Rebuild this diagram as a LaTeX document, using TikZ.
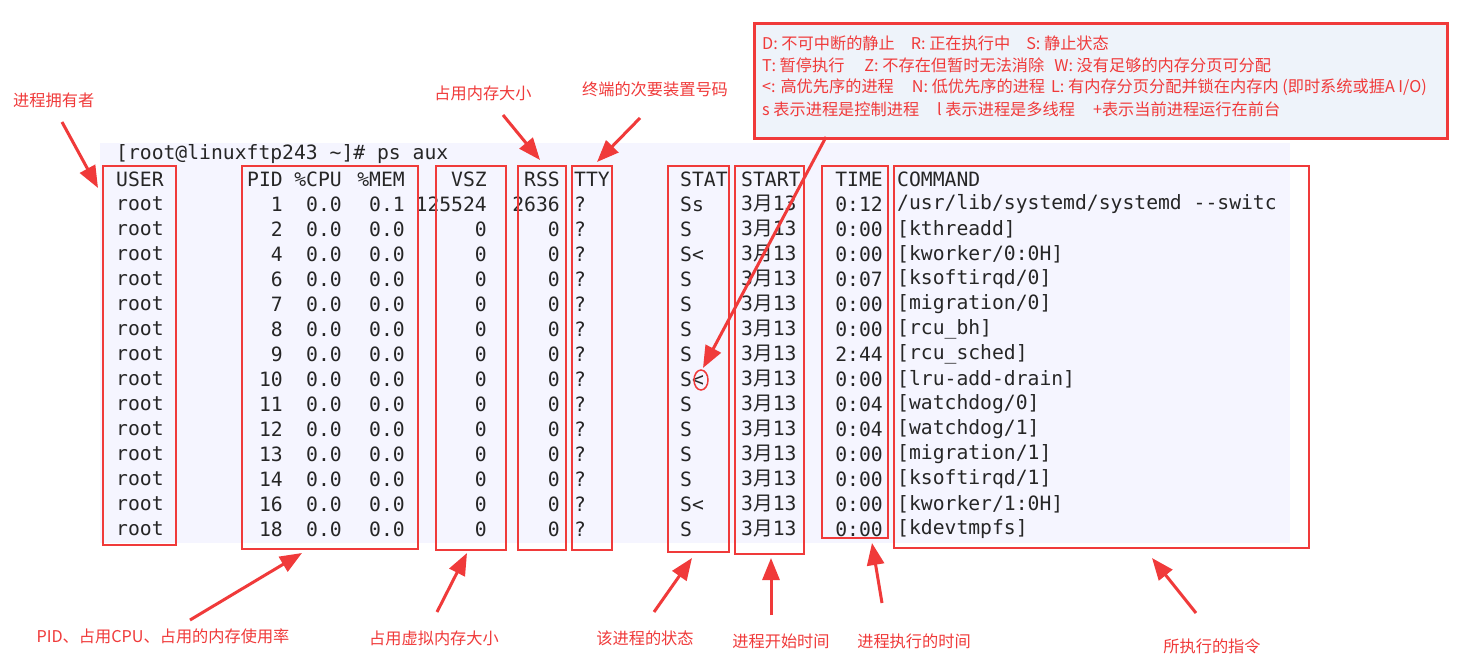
\documentclass[tikz,border=0pt]{standalone}
\usepackage{fontspec}
\setmainfont{Noto Sans CJK SC}
\newfontfamily\cjk{Noto Sans CJK SC}
\newfontfamily\mono{DejaVu Sans Mono}
\usetikzlibrary{arrows.meta}
\definecolor{rd}{HTML}{F03A3A}
\definecolor{bx}{HTML}{EEF3FA}
\tikzset{
  col/.style={draw=rd,line width=2.6pt},
  tt/.style={inner sep=0pt,font=\mono\fontsize{19.7}{20}\selectfont,text=black!85},
  lab/.style={inner sep=0pt,text=rd,font=\cjk\fontsize{16.2}{17}\selectfont},
  arr/.style={draw=rd,line width=3pt,-{Triangle[length=22pt,width=17pt]}},
}
\begin{document}
\begin{tikzpicture}[x=1pt,y=-1pt]
\useasboundingbox (0,0) rectangle (1462,663);
\fill[white] (0,0) rectangle (1462,663);
\fill[white!96!blue] (100,143) rectangle (1290,543);
% header
\node[tt,anchor=west] (prompt) at (116,154) {[root@linuxftp243 \textasciitilde]\# ps aux};
\node[tt,anchor=west] (hU) at (116,179) {USER};
\node[tt,anchor=east] (hP) at (283,179) {PID};
\node[tt,anchor=east] (hC) at (342,179) {\%CPU};
\node[tt,anchor=east] (hM) at (405,179) {\%MEM};
\node[tt,anchor=east] (hV) at (487,179) {VSZ};
\node[tt,anchor=east] (hR) at (560,179) {RSS};
\node[tt,anchor=west] (hT) at (574,179) {TTY};
\node[tt,anchor=west] (hS) at (680,179) {STAT};
\node[tt,anchor=west] (hSt) at (741,179) {START};
\node[tt,anchor=east] (hTi) at (883,179) {TIME};
\node[tt,anchor=west] (hCo) at (897,179) {COMMAND};
\foreach \i/\p/\m/\v/\r/\s/\t/\c in {
 1/1/0.1/125524/2636/Ss/0:12/{/usr/lib/systemd/systemd --switc},
 2/2/0.0/0/0/S/0:00/{[kthreadd]},
 3/4/0.0/0/0/S<{}/0:00/{[kworker/0:0H]},
 4/6/0.0/0/0/S/0:07/{[ksoftirqd/0]},
 5/7/0.0/0/0/S/0:00/{[migration/0]},
 6/8/0.0/0/0/S/0:00/{[rcu\_bh]},
 7/9/0.0/0/0/S/2:44/{[rcu\_sched]},
 8/10/0.0/0/0/S<{}/0:00/{[lru-add-drain]},
 9/11/0.0/0/0/S/0:04/{[watchdog/0]},
 10/12/0.0/0/0/S/0:04/{[watchdog/1]},
 11/13/0.0/0/0/S/0:00/{[migration/1]},
 12/14/0.0/0/0/S/0:00/{[ksoftirqd/1]},
 13/16/0.0/0/0/S<{}/0:00/{[kworker/1:0H]},
 14/18/0.0/0/0/S/0:00/{[kdevtmpfs]}}{
 \pgfmathsetmacro\yy{179+25*\i}
 \node[tt,anchor=west] (u\i) at (116,\yy) {root};
 \node[tt,anchor=east] (p\i) at (283,\yy) {\p};
 \node[tt,anchor=east] (c\i) at (342,\yy) {0.0};
 \node[tt,anchor=east] (m\i) at (405,\yy) {\m};
 \node[tt,anchor=east] (v\i) at (487,\yy) {\v};
 \node[tt,anchor=east] (r\i) at (560,\yy) {\r};
 \node[tt,anchor=west] (y\i) at (574,\yy) {?};
 \node[tt,anchor=west] (s\i) at (680,\yy) {\s};
 \node[tt,anchor=west] (d\i) at (741,\yy) {3{\cjk 月}13};
 \node[tt,anchor=east] (t\i) at (883,\yy) {\t};
 \node[tt,anchor=west] (k\i) at (897,\yy) {\c};
}
% column boxes
\draw[col] (103,166) rectangle (176,545);
\draw[col] (242,166) rectangle (418,549);
\draw[col] (436,166) rectangle (506,550);
\draw[col] (518,166) rectangle (566,550);
\draw[col] (572,166) rectangle (612,550);
\draw[col] (668,166) rectangle (729,552);
\draw[col] (735,166) rectangle (804,554);
\draw[col] (822,166) rectangle (888,538);
\draw[col] (894,166) rectangle (1309,548);
\draw[draw=rd,line width=1.5pt] (701,380) ellipse (7 and 10);
\coordinate (circ) at (703,368);
% info box
\node[draw=rd,line width=2.6pt,fill=bx,minimum width=693pt,minimum height=115pt,anchor=north west] (info) at (753,22) {};
\node[lab,anchor=west] (i1) at (762,43) {D: 不可中断的静止\hspace{16pt}R: 正在执行中\hspace{16pt}S: 静止状态};
\node[lab,anchor=west] (i2) at (762,65) {T: 暂停执行\hspace{20pt}Z: 不存在但暂时无法消除\hspace{10pt}W: 没有足够的内存分页可分配};
\node[lab,anchor=west] (i3) at (762,87) {<: 高优先序的进程\hspace{18pt}N: 低优先序的进程\hspace{6pt}L: 有内存分页分配并锁在内存内 (即时系统或捱A I/O)};
\node[lab,anchor=west] (i4) at (762,109) {s 表示进程是控制进程\hspace{18pt}l 表示进程是多线程\hspace{18pt}+表示当前进程运行在前台};
\coordinate (infoa) at (826,137);
\draw[arr] (infoa) -- (circ);
% labels
\node[lab,anchor=west] (l1) at (13,100) {进程拥有者};
\coordinate (a1) at (98,188); \draw[arr] (62,122) -- (a1);
\node[lab] (l2) at (483,93) {占用内存大小};
\coordinate (a2) at (540,160); \draw[arr] (503,115) -- (a2);
\node[lab] (l3) at (655,89) {终端的次要装置号码};
\coordinate (a3) at (597,162); \draw[arr] (640,118) -- (a3);
\node[lab] (l4) at (163,636) {PID、占用CPU、占用的内存使用率};
\coordinate (a4) at (302,553); \draw[arr] (190,620) -- (a4);
\node[lab] (l5) at (434,638) {占用虚拟内存大小};
\coordinate (a5) at (467,553); \draw[arr] (437,612) -- (a5);
\node[lab] (l6) at (645,638) {该进程的状态};
\coordinate (a6) at (692,558); \draw[arr] (654,612) -- (a6);
\node[lab] (l7) at (781,641) {进程开始时间};
\coordinate (a7) at (771,558); \draw[arr] (771,615) -- (a7);
\node[lab] (l8) at (914,641) {进程执行的时间};
\coordinate (a8) at (872,543); \draw[arr] (882,603) -- (a8);
\node[lab] (l9) at (1212,646) {所执行的指令};
\coordinate (a9) at (1152,558); \draw[arr] (1196,613) -- (a9);
\end{tikzpicture}
\end{document}
